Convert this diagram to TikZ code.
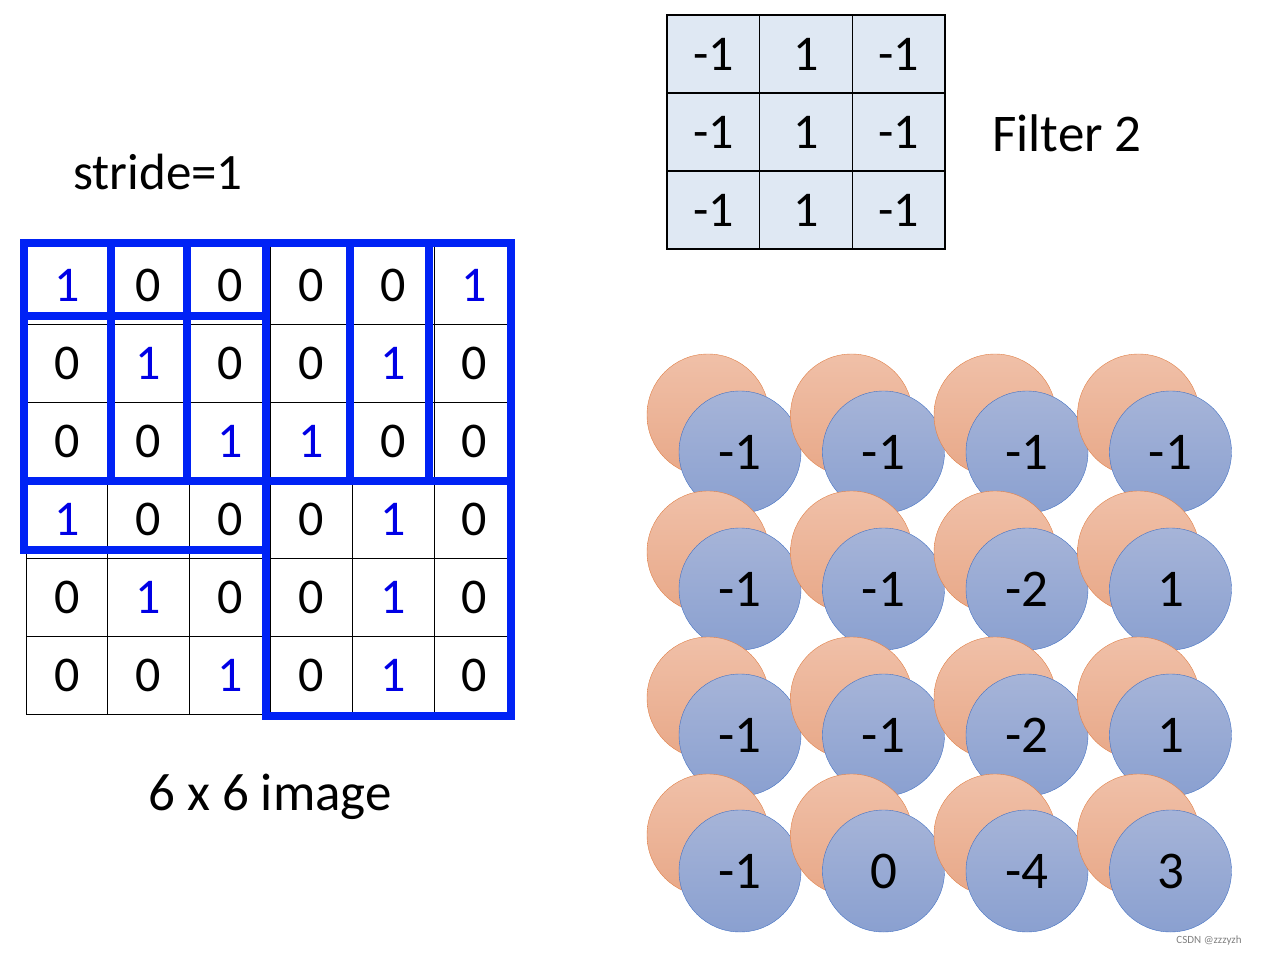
\documentclass[tikz,border=0pt]{standalone}
\usepackage{fontspec}
\setmainfont{Carlito}
\begin{document}
\begin{tikzpicture}[x=1pt,y=-1pt,
  big/.style={font=\fontsize{50}{50}\selectfont},
  v0/.style={},
  v1/.style={text=blue!90!black},
  thick blue/.style={draw={rgb,255:red,0;green,34;blue,245},line width=8pt,line cap=rect},
  orc/.style={circle,minimum size=122pt,inner sep=0pt,draw={rgb,255:red,224;green,128;blue,72},top color={rgb,255:red,240;green,192;blue,168},bottom color={rgb,255:red,232;green,168;blue,136}},
  buc/.style={circle,minimum size=122pt,inner sep=0pt,draw={rgb,255:red,68;green,114;blue,196},top color={rgb,255:red,166;green,180;blue,216},bottom color={rgb,255:red,138;green,160;blue,208},font=\fontsize{53}{53}\selectfont},
  fc/.style={draw,line width=1.5pt,fill={rgb,255:red,223;green,232;blue,243},minimum width=92.7pt,minimum height=78pt,inner sep=0pt,font=\fontsize{50}{50}\selectfont}]
\useasboundingbox (0,0) rectangle (1261,957);
% 6x6 grid
\def\xs{{26,107,189,270,352,434,514}}
\foreach \r/\row in {0/{1,0,0,0,0,1},1/{0,1,0,0,1,0},2/{0,0,1,1,0,0},3/{1,0,0,0,1,0},4/{0,1,0,0,1,0},5/{0,0,1,0,1,0}}{
  \foreach \v [count=\c from 0] in \row {
    \pgfmathsetmacro\xa{\xs[\c]}\pgfmathsetmacro\xb{\xs[\c+1]}
    \pgfmathsetmacro\ya{246+78*\r}
    \node[draw,line width=1.2pt,minimum width={\xb-\xa},minimum height=78pt,inner sep=0pt,anchor=north west,big,v\v] (g\r\c) at (\xa,\ya) {\v};
  }
}
% blue windows
\draw[thick blue] (24,243) -- (511,243);
\draw[thick blue] (24,316) -- (266,316);
\draw[thick blue] (24,481) -- (511,481);
\draw[thick blue] (24,550) -- (266,550);
\draw[thick blue] (266,716) -- (511,716);
\draw[thick blue] (24,243) -- (24,550);
\draw[thick blue] (111,243) -- (111,478);
\draw[thick blue] (187,243) -- (187,478);
\draw[thick blue] (266,243) -- (266,716);
\draw[thick blue] (350,243) -- (350,478);
\draw[thick blue] (429,243) -- (429,478);
\draw[thick blue] (511,243) -- (511,716);
% texts
\node[font=\fontsize{51}{51}\selectfont] (stride) at (158,172) {stride=1};
\node[font=\fontsize{53}{53}\selectfont] (img) at (270,797) {6 x 6 image};
\node[font=\fontsize{53}{53}\selectfont] (flt) at (1067,133) {Filter 2};
% filter
\foreach \r in {0,1,2}{
  \foreach \v [count=\c from 0] in {-1,1,-1}{
    \node[fc] (f\r\c) at ({667+92.7*\c+46.35},{15+78*\r+39}) {\v};
  }
}
% circles
\def\oys{{415,552,698,835}}
\def\bys{{452,589,735,871}}
\foreach \r/\vals in {0/{-1,-1,-1,-1},1/{-1,-1,-2,1},2/{-1,-1,-2,1},3/{-1,0,-4,3}}{
  \foreach \v [count=\c from 0] in \vals {
    \pgfmathsetmacro\oy{\oys[\r]}\pgfmathsetmacro\by{\bys[\r]}
    \node[orc] (o\r\c) at ({708+143.5*\c},\oy) {};
    \node[buc] (b\r\c) at ({740+143.5*\c},\by) {\v};
  }
}
\node[font=\fontsize{11}{11}\selectfont,text=gray] (wm) at (1209,941) {CSDN @zzzyzh};
\end{tikzpicture}
\end{document}
